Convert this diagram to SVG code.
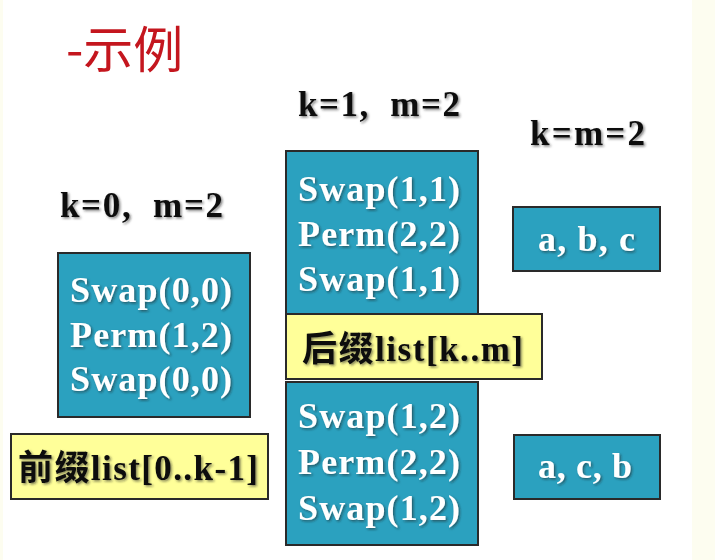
<svg xmlns="http://www.w3.org/2000/svg" width="715" height="560" viewBox="0 0 715 560">
<defs>
<style>
.bg{fill:#ffffff}
.blue{fill:#2ba1bf;stroke:#2a2a2a;stroke-width:2}
.yel{fill:#ffff99;stroke:#2a2a2a;stroke-width:2}
.w{font-family:"Liberation Serif","Noto Sans CJK SC",serif;font-weight:bold;font-size:36px;fill:#ffffff}
.k{font-family:"Liberation Serif","Noto Sans CJK SC",serif;font-weight:bold;font-size:35px;fill:#111111}
.title{font-family:"Noto Sans CJK SC","Liberation Sans",sans-serif;font-size:50px;fill:#c4161e}
</style>
<filter id="sh" x="-10%" y="-30%" width="120%" height="160%">
<feDropShadow dx="1.5" dy="1.5" stdDeviation="1" flood-color="#1a1a1a" flood-opacity="0.55"/>
</filter>
</defs>
<rect class="bg" x="0" y="0" width="715" height="560"/>
<rect x="0" y="0" width="3" height="560" fill="#fdfdf0"/>
<rect x="692" y="0" width="23" height="560" fill="#fdfdf0"/>

<text class="title" x="66" y="68">-示例</text>

<g id="labels" filter="url(#sh)">
<text class="k" x="298" y="116" textLength="162" lengthAdjust="spacing" xml:space="preserve">k=1,  m=2</text>
<text class="k" x="530" y="145" textLength="115" lengthAdjust="spacing">k=m=2</text>
<text class="k" x="60" y="217" textLength="163" lengthAdjust="spacing" xml:space="preserve">k=0,  m=2</text>
</g>

<g id="connectors"></g>

<g id="node-left">
<rect class="blue" x="58" y="253" width="192" height="164"/>
<g filter="url(#sh)">
<text class="w" x="70" y="302" textLength="162" lengthAdjust="spacing">Swap(0,0)</text>
<text class="w" x="70" y="347" textLength="162" lengthAdjust="spacing">Perm(1,2)</text>
<text class="w" x="70" y="391" textLength="162" lengthAdjust="spacing">Swap(0,0)</text>
</g>
</g>

<g id="node-prefix">
<rect class="yel" x="11" y="434" width="257" height="65"/>
<text class="k" x="18" y="480" textLength="240" lengthAdjust="spacing" filter="url(#sh)">前缀list[0..k-1]</text>
</g>

<g id="node-mid-top">
<rect class="blue" x="286" y="151" width="192" height="163"/>
<g filter="url(#sh)">
<text class="w" x="298" y="201" textLength="162" lengthAdjust="spacing">Swap(1,1)</text>
<text class="w" x="298" y="246" textLength="162" lengthAdjust="spacing">Perm(2,2)</text>
<text class="w" x="298" y="291" textLength="162" lengthAdjust="spacing">Swap(1,1)</text>
</g>
</g>

<g id="node-mid-bottom">
<rect class="blue" x="286" y="382" width="192" height="163"/>
<g filter="url(#sh)">
<text class="w" x="298" y="428" textLength="162" lengthAdjust="spacing">Swap(1,2)</text>
<text class="w" x="298" y="474" textLength="162" lengthAdjust="spacing">Perm(2,2)</text>
<text class="w" x="298" y="520" textLength="162" lengthAdjust="spacing">Swap(1,2)</text>
</g>
</g>

<g id="node-suffix">
<rect class="yel" x="286" y="314" width="256" height="65"/>
<text class="k" x="302" y="361" textLength="221" lengthAdjust="spacing" filter="url(#sh)">后缀list[k..m]</text>
</g>

<g id="node-abc">
<rect class="blue" x="513" y="207" width="147" height="64"/>
<text class="w" x="538" y="251" textLength="97" lengthAdjust="spacing" filter="url(#sh)">a, b, c</text>
</g>

<g id="node-acb">
<rect class="blue" x="514" y="435" width="146" height="64"/>
<text class="w" x="538" y="478" textLength="94" lengthAdjust="spacing" filter="url(#sh)">a, c, b</text>
</g>
</svg>
